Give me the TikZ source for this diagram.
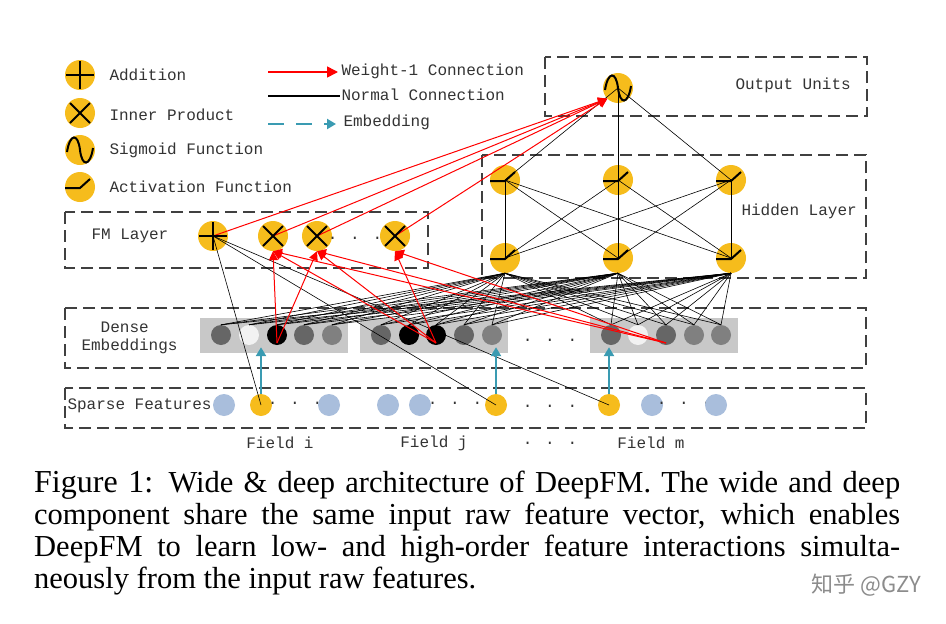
\documentclass[tikz,border=0pt]{standalone}
\usepackage{fontspec}
\setmainfont{Liberation Serif}
\newfontfamily\ttf{Liberation Mono}
\newfontfamily\cjk{Noto Sans CJK SC}
\usetikzlibrary{arrows.meta}
\definecolor{gold}{HTML}{F6BC1C}
\definecolor{lblue}{HTML}{A9BEDC}
\definecolor{teal2}{HTML}{3A9BB2}
\definecolor{boxg}{HTML}{C8C8C8}
\tikzset{
 op/.style={circle,fill=gold,minimum size=30pt,inner sep=0pt},
 dbox/.style={draw=black!75,dash pattern=on 12pt off 6pt,line width=1.6pt},
 lab/.style={font=\ttf\fontsize{16}{18}\selectfont,anchor=west,text=black!80},
 emb/.style={circle,minimum size=20pt,inner sep=0pt},
 sp/.style={circle,minimum size=22pt,inner sep=0pt},
 red1/.style={draw=red,line width=1pt},
 nrm/.style={draw=black,line width=0.6pt},
 sym/.style={line width=2pt,black},
 eb/.style={draw=teal2,line width=2.4pt,-{Triangle[length=9pt,width=10pt]}}
}
\newcommand\symAdd[1]{\draw[sym] ([xshift=-14pt]#1.center)--([xshift=14pt]#1.center) ([yshift=-14pt]#1.center)--([yshift=14pt]#1.center);}
\newcommand\symMul[1]{\draw[sym] ([shift={(-10pt,-10pt)}]#1.center)--([shift={(10pt,10pt)}]#1.center) ([shift={(-10pt,10pt)}]#1.center)--([shift={(10pt,-10pt)}]#1.center);}
\newcommand\symSig[1]{\draw[sym] ([shift={(-13pt,-2pt)}]#1.center) .. controls ([shift={(-10pt,17pt)}]#1.center) and ([shift={(-2pt,17pt)}]#1.center) .. (#1.center) .. controls ([shift={(2pt,-17pt)}]#1.center) and ([shift={(10pt,-17pt)}]#1.center) .. ([shift={(13pt,2pt)}]#1.center);}
\newcommand\symAct[1]{\draw[sym] ([shift={(-15pt,-1pt)}]#1.center)--([shift={(0pt,-1pt)}]#1.center)--([shift={(10pt,8pt)}]#1.center);}
\begin{document}
\begin{tikzpicture}[x=1pt,y=-1pt]
\useasboundingbox[fill=white] (0,0) rectangle (946,624);
% boxes
\draw[dbox] (545,57) rectangle (867,116);
\draw[dbox] (482,155) rectangle (866,278);
\draw[dbox] (65,212) rectangle (428,268);
\draw[dbox] (65,308) rectangle (866,368);
\draw[dbox] (65,388) rectangle (866,428);
\fill[boxg] (200,318) rectangle (348,353);
\fill[boxg] (360,318) rectangle (508,353);
\fill[boxg] (590,318) rectangle (738,353);
% legend
\node[op] (la) at (80,75) {}; \symAdd{la}
\node[op] (lm) at (80,113) {}; \symMul{lm}
\node[op] (ls) at (80,150) {}; \symSig{ls}
\node[op] (lc) at (80,187) {}; \symAct{lc}
\node[lab] (ta) at (106,75) {Addition};
\node[lab] (tm) at (106,115) {Inner Product};
\node[lab] (ts) at (106,150) {Sigmoid Function};
\node[lab] (tc) at (106,187) {Activation Function};
\coordinate (r1) at (268,72); \coordinate (r2) at (338,72);
\draw[red1,line width=1.6pt,-{Triangle[length=11pt,width=11pt]}] (r1)--(r2);
\node[lab] (tw) at (338,71) {Weight-1 Connection};
\coordinate (n1) at (268,96); \coordinate (n2) at (340,96);
\draw[line width=1.6pt] (n1)--(n2);
\node[lab] (tn) at (338,95) {Normal Connection};
\coordinate (e1) at (268,124); \coordinate (e2) at (336,124);
\draw[eb,dash pattern=on 16pt off 12pt] (e1)--(e2);
\node[lab] (te) at (340,122) {Embedding};
\node[lab] at (732,85) {Output Units};
\node[lab] at (738,211) {Hidden Layer};
\node[lab] at (88,236) {FM Layer};
\node[lab,align=left] at (78,338) {\ \ Dense\\Embeddings};
\node[lab] at (64,406) {Sparse Features};
\node[lab,anchor=center] at (280,443) {Field i};
\node[lab,anchor=center] at (434,443) {Field j};
\node[lab,anchor=center] at (550,443) {. . .};
\node[lab,anchor=center] at (651,443) {Field m};
% sparse
\node[sp,fill=lblue] (s1) at (224,405) {};
\node[sp,fill=gold] (sy1) at (261,405) {};
\node[lab,anchor=center] at (295,403) {. . .};
\node[sp,fill=lblue] (s2) at (329,405) {};
\node[sp,fill=lblue] (s3) at (388,405) {};
\node[sp,fill=lblue] (s4) at (420,405) {};
\node[lab,anchor=center] at (455,403) {. . .};
\node[sp,fill=gold] (sy2) at (496,405) {};
\node[lab,anchor=center] at (550,406) {. . .};
\node[sp,fill=gold] (sy3) at (609,405) {};
\node[sp,fill=lblue] (s5) at (652,405) {};
\node[lab,anchor=center] at (684,403) {. . .};
\node[sp,fill=lblue] (s6) at (716,405) {};
% dense
\foreach \n/\x/\c in {d1/221/black!60,d2/249/black!5,d3/277/black,d4/304/black!60,d5/332/black!50,
 d6/381/black!60,d7/409/black,d8/436/black,d9/464/black!60,d10/492/black!50,
 d11/611/black!60,d12/638/black!5,d13/666/black!60,d14/694/black!50,d15/721/black!50}
 \node[emb,fill=\c] (\n) at (\x,335) {};
\node[lab,anchor=center] at (550,340) {. . .};
% hidden/output nodes
\node[op] (h1) at (505,180) {};
\node[op] (h2) at (618,180) {};
\node[op] (h3) at (731,180) {};
\node[op] (g1) at (505,258) {};
\node[op] (g2) at (618,258) {};
\node[op] (g3) at (731,258) {};
\node[op] (out) at (618,88) {};
% FM nodes
\node[op] (fa) at (213,236) {};
\node[op] (f1) at (273,236) {};
\node[op] (f2) at (317,236) {};
\node[lab,anchor=center] at (355,238) {. . .};
\node[op] (f3) at (395,236) {};
% normal connections
\foreach \d in {d1,d2,d3,d4,d5,d6,d7,d8,d9,d10,d11,d12,d13,d14,d15}
 \foreach \g in {g1,g2,g3}
  \draw[nrm] (\d.north) -- (\g.south);
\foreach \g in {g1,g2,g3} \foreach \h in {h1,h2,h3} \draw[nrm] (\g.center) -- (\h.center);
\foreach \h in {h1,h2,h3} \draw[nrm] (\h.center) -- (out.center);
\foreach \s in {sy1,sy2,sy3} \draw[nrm] (fa.center) -- (\s.center);
% embedding arrows
\draw[eb] (sy1.north) -- ([yshift=-2pt]d2.south -| sy1);
\draw[eb] (sy2.north) -- ([yshift=-2pt]d10.south -| sy2);
\draw[eb] (sy3.north) -- ([yshift=-2pt]d11.south -| sy3);
% red connections
\foreach \d/\f in {d3/f1,d3/f2,d8/f1,d8/f2,d8/f3,d13/f1,d13/f2,d13/f3}
 \draw[red1,-{Triangle[length=9pt,width=9pt]}] ([yshift=-8pt]\d.center) -- (\f.south);
\foreach \f in {fa,f1,f2,f3}
 \draw[red1,-{Triangle[length=9pt,width=9pt]}] (\f.center) -- (out.south west);
% symbols
\symAdd{fa} \symMul{f1} \symMul{f2} \symMul{f3}
\foreach \n in {h1,h2,h3,g1,g2,g3} {\symAct{\n}}
\symSig{out}
% caption
\node[anchor=north west,text width=866pt,align=justify,inner sep=0pt,font=\fontsize{30.5}{32}\selectfont] (cap) at (34,471)
{{\fontsize{32}{32}\selectfont Figure 1:} Wide \& deep architecture of DeepFM. The wide and deep\linebreak component share the same input raw feature vector, which enables\linebreak DeepFM to learn low- and high-order feature interactions simulta-\linebreak neously from the input raw features.};
\node[anchor=east,text=black!45,font=\cjk\fontsize{22}{24}\selectfont] (wm) at (925,585) {知乎 @GZY};
\end{tikzpicture}
\end{document}
